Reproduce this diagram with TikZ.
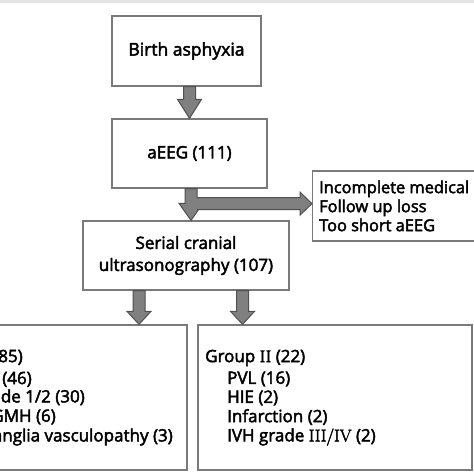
\documentclass[tikz,border=0pt]{standalone}
\usepackage{fontspec}
\setmainfont{Open Sans}[FakeBold=2.6]
\newfontfamily\numfont{Latin Modern Roman}[FakeBold=2.6]
\usetikzlibrary{calc}
\definecolor{boxgray}{HTML}{7A7A7A}
\definecolor{arrfill}{HTML}{808080}
\definecolor{arrdraw}{HTML}{505050}
\definecolor{topgray}{HTML}{E4E4E4}
\newcommand\downfat[3]{%
  \draw[fat] let \p1=(#1), \p2=(#2) in
    (\x1-6pt,\y1) -- (\x1-6pt,\y2+#3) -- (\x1-12pt,\y2+#3) -- (\x1,\y2)
    -- (\x1+12pt,\y2+#3) -- (\x1+6pt,\y2+#3) -- (\x1+6pt,\y1) -- cycle;}
\begin{document}
\begin{tikzpicture}[x=1pt,y=1pt,
  box/.style={draw=boxgray, line width=1.3pt, fill=white, inner sep=0pt},
  txt/.style={font=\fontsize{17}{19.5}\selectfont, inner sep=0pt, text=black},
  fat/.style={fill=arrfill, draw=arrdraw, line width=1pt, line join=miter}]
\useasboundingbox (0,0) rectangle (474,474);
\clip (0,0) rectangle (474,474);
\fill[white] (0,0) rectangle (474,474);
\fill[topgray] (0,471) rectangle (474,474);

% boxes
\node[box, txt, minimum width=149pt, minimum height=70pt, font=\fontsize{17.5}{20}\selectfont] (birth) at (186.5,423) {Birth asphyxia};
\node[box, txt, minimum width=155pt, minimum height=69pt] (aeeg) at (189.5,320.5) {aEEG (111)};
\node[box, txt, minimum width=206pt, minimum height=69pt, align=center,
      font=\fontsize{17}{22}\selectfont] (ser) at (186,218.5) {Serial cranial\\ultrasonography (107)};
\node[box, minimum width=220pt, minimum height=70pt, anchor=west] (inc) at (312,268) {};
\node[txt, anchor=west, align=left, font=\fontsize{16.4}{19}\selectfont] (inct) at (319,268) {Incomplete medical\\Follow up loss\\Too short aEEG};
\node[box, minimum width=307pt, minimum height=145pt] (g1) at (33.5,76.5) {};
\node[box, minimum width=274pt, minimum height=145pt] (g2) at (335,76.5) {};

% group I list (clipped at left, as in the reference)
\node[txt, anchor=east] (g1a) at (23,116) {Group {\numfont I} (85)};
\node[txt, anchor=east] (g1b) at (32,95) {Normal (46)};
\node[txt, anchor=east] (g1c) at (85,76) {IVH grade 1/2 (30)};
\node[txt, anchor=east] (g1d) at (56,57) {GMH (6)};
\node[txt, anchor=east] (g1e) at (173,37) {Basal ganglia vasculopathy (3)};

% group II list
\node[txt, anchor=west] (g2a) at (205,116) {Group {\numfont II} (22)};
\node[txt, anchor=west] (g2b) at (227,95) {PVL (16)};
\node[txt, anchor=west] (g2c) at (227,76) {HIE (2)};
\node[txt, anchor=west] (g2d) at (227,57) {Infarction (2)};
\node[txt, anchor=west] (g2e) at (227,37) {IVH grade {\numfont III/IV} (2)};

% arrows
\coordinate (a1s) at (birth.south -| aeeg.north);
\downfat{a1s}{aeeg.north}{19pt}
\coordinate (a2s) at ([xshift=1.5pt]aeeg.south);
\coordinate (a2t) at (a2s |- ser.north);
\downfat{a2s}{a2t}{17pt}
\coordinate (hs) at ([yshift=-15pt]a2s);
\coordinate (ht) at (inc.west |- hs);
\fill[arrfill] let \p1=(hs), \p2=(ht) in
  (\x1+5pt,\y1-6pt) -- (\x2-12pt,\y1-6pt) -- (\x2-12pt,\y1-11.5pt) -- (\x2,\y1)
  -- (\x2-12pt,\y1+11.5pt) -- (\x2-12pt,\y1+6pt) -- (\x1+5pt,\y1+6pt) -- cycle;
\draw[arrdraw, line width=1pt] let \p1=(hs), \p2=(ht) in
  (\x1+6pt,\y1-6pt) -- (\x2-12pt,\y1-6pt) -- (\x2-12pt,\y1-11.5pt) -- (\x2,\y1)
  -- (\x2-12pt,\y1+11.5pt) -- (\x2-12pt,\y1+6pt) -- (\x1+6pt,\y1+6pt);
\coordinate (a3s) at ([xshift=-47pt]ser.south);
\coordinate (a3t) at (a3s |- g1.north);
\downfat{a3s}{a3t}{13pt}
\coordinate (a4s) at ([xshift=56.5pt]ser.south);
\coordinate (a4t) at (a4s |- g2.north);
\downfat{a4s}{a4t}{13pt}
\end{tikzpicture}
\end{document}
